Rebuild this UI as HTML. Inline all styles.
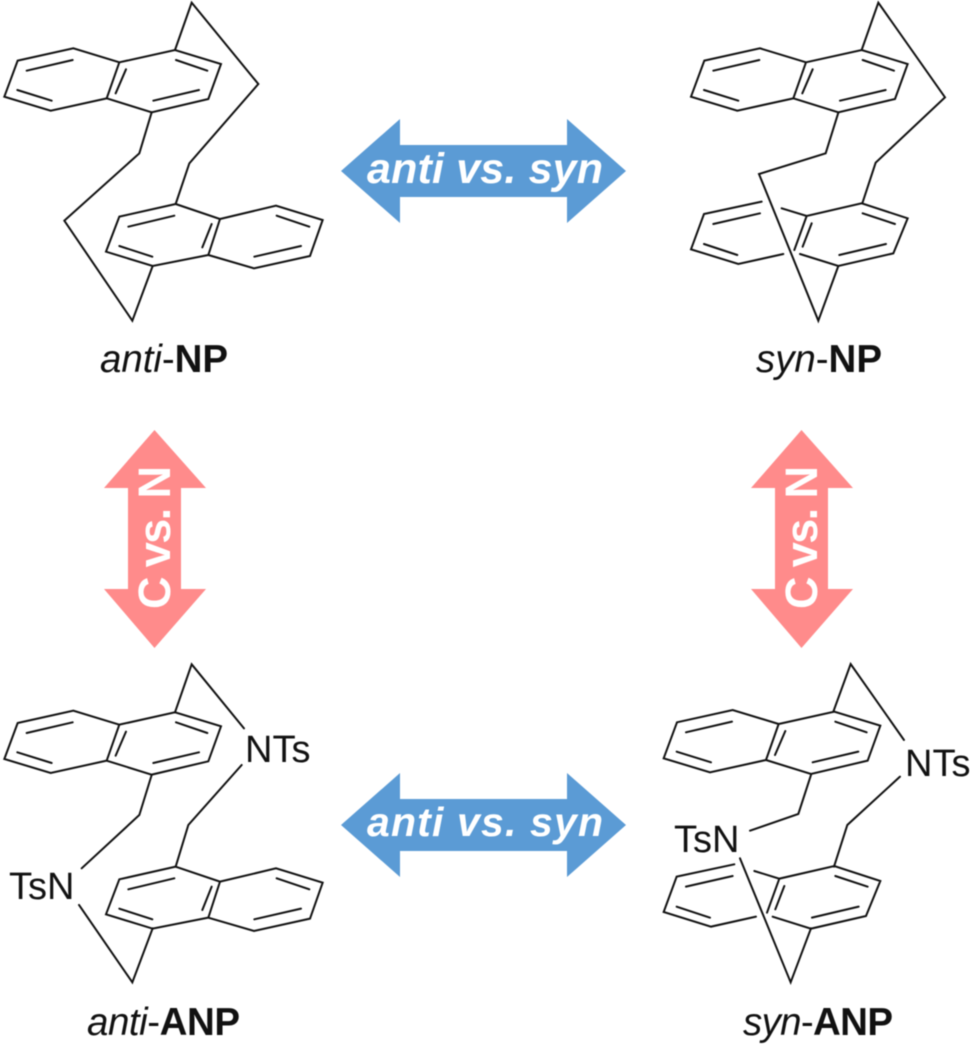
<!DOCTYPE html>
<html>
<head>
<meta charset="utf-8">
<style>
html,body{margin:0;padding:0;background:#fff;width:970px;height:1047px;overflow:hidden}
svg{display:block;filter:blur(0.45px)}
text{font-family:"Liberation Sans",Arial,sans-serif}
.m{fill:none;stroke:#111;stroke-width:6;stroke-linejoin:miter;stroke-linecap:round}
.l{font-size:38.5px;fill:#111}
.a{font-size:38px;fill:#111}
.w{font-size:43px;font-weight:bold;font-style:italic;fill:#fff}
.w2{font-size:41px;font-weight:bold;font-style:italic;fill:#fff}
.c{font-size:45px;font-weight:bold;fill:#fff}
</style>
</head>
<body>
<svg width="970" height="1047" viewBox="0 0 970 1047" xmlns="http://www.w3.org/2000/svg">
<defs>
<path id="top" d="M358,187L220,145L53,182L13,290L152,332L320,295L358,187L525,150L663,192L625,297L455,337L320,295M80,212L218,180M52,270L155,302M378,208L347,280M528,180L622,212M460,302L597,270"/>
<path id="bot" d="M527,612L358,650L318,755L458,798L625,765L660,657L527,612M660,657L828,617L968,660L930,768L762,805L625,765M385,680L523,647M358,738L457,770M635,672L607,742M830,647L928,680M763,770L903,738"/>
<path id="syn" d="M245,605L72,642L33,748L175,792L310,762M360,762L475,798L640,760L683,655L545,610L380,648L305,625M380,648L343,750M100,672L240,640M72,732L172,765M395,670L368,740M478,765L618,732M548,640L645,672"/>
</defs>
<g class="m" transform="scale(0.33333)">
  <!-- anti-NP -->
  <use href="#top"/><use href="#bot"/>
  <path d="M525,150L575,8L775,252L568,490L527,612M455,337L418,460L193,662L397,962L458,798"/>
  <!-- syn-NP -->
  <use href="#top" transform="translate(2060,0)"/>
  <use href="#syn" transform="translate(2040,0)"/>
  <path transform="translate(2040,0)" d="M545,150L595,8L795,292L587,488L547,610M475,338L437,460L237,522L415,962L475,798"/>
  <!-- anti-ANP -->
  <use href="#top" transform="translate(0,1987)"/>
  <use href="#bot" transform="translate(0,1988)"/>
  <path transform="translate(0,1950)" d="M525,187L575,43L732,235M725,345L565,525L527,650M455,375L418,495L245,655M237,765L397,997L458,835"/>
  <!-- syn-ANP -->
  <use href="#top" transform="translate(1978,1985)"/>
  <use href="#syn" transform="translate(1958,1988)"/>
  <path transform="translate(1950,1950)" d="M550,185L602,42L762,270M750,380L592,525L552,650M483,375L445,492L300,542M270,625L422,997L483,835"/>
</g>

<!-- blue arrows -->
<polygon fill="#5b9bd5" points="341,171 400,119 400,145 567,145 567,119 626,171 567,223 567,197 400,197 400,223"/>
<text class="w" x="367" y="183" textLength="236" lengthAdjust="spacing">anti vs. syn</text>
<polygon fill="#5b9bd5" points="341,825 400,773 400,799 567,799 567,773 626,825 567,877 567,851 400,851 400,877"/>
<text class="w2" x="367" y="836" textLength="236" lengthAdjust="spacing">anti vs. syn</text>

<!-- pink arrows -->
<polygon fill="#ff8b8b" points="154.5,430 206,488 181,488 181,589 206,589 154.5,648 104,589 128,589 128,488 104,488"/>
<text class="c" transform="translate(170,609) rotate(-90)" textLength="143" lengthAdjust="spacing">C vs. N</text>
<polygon fill="#ff8b8b" points="801.5,430 853,488 828,488 828,589 853,589 801.5,648 751,589 775,589 775,488 751,488"/>
<text class="c" transform="translate(817,609) rotate(-90)" textLength="143" lengthAdjust="spacing">C vs. N</text>

<!-- atom labels -->
<text class="a" x="245" y="762">NTs</text>
<text class="a" x="9" y="899">TsN</text>
<text class="a" x="905" y="776">NTs</text>
<text class="a" x="674" y="852">TsN</text>

<!-- compound labels -->
<text class="l" x="100" y="372" textLength="128" lengthAdjust="spacing"><tspan font-style="italic">anti</tspan>-<tspan font-weight="bold">NP</tspan></text>
<text class="l" x="756" y="372" textLength="126" lengthAdjust="spacing"><tspan font-style="italic">syn</tspan>-<tspan font-weight="bold">NP</tspan></text>
<text class="l" x="87" y="1035" textLength="153" lengthAdjust="spacing"><tspan font-style="italic">anti</tspan>-<tspan font-weight="bold">ANP</tspan></text>
<text class="l" x="743" y="1035" textLength="150" lengthAdjust="spacing"><tspan font-style="italic">syn</tspan>-<tspan font-weight="bold">ANP</tspan></text>
</svg>
</body>
</html>
